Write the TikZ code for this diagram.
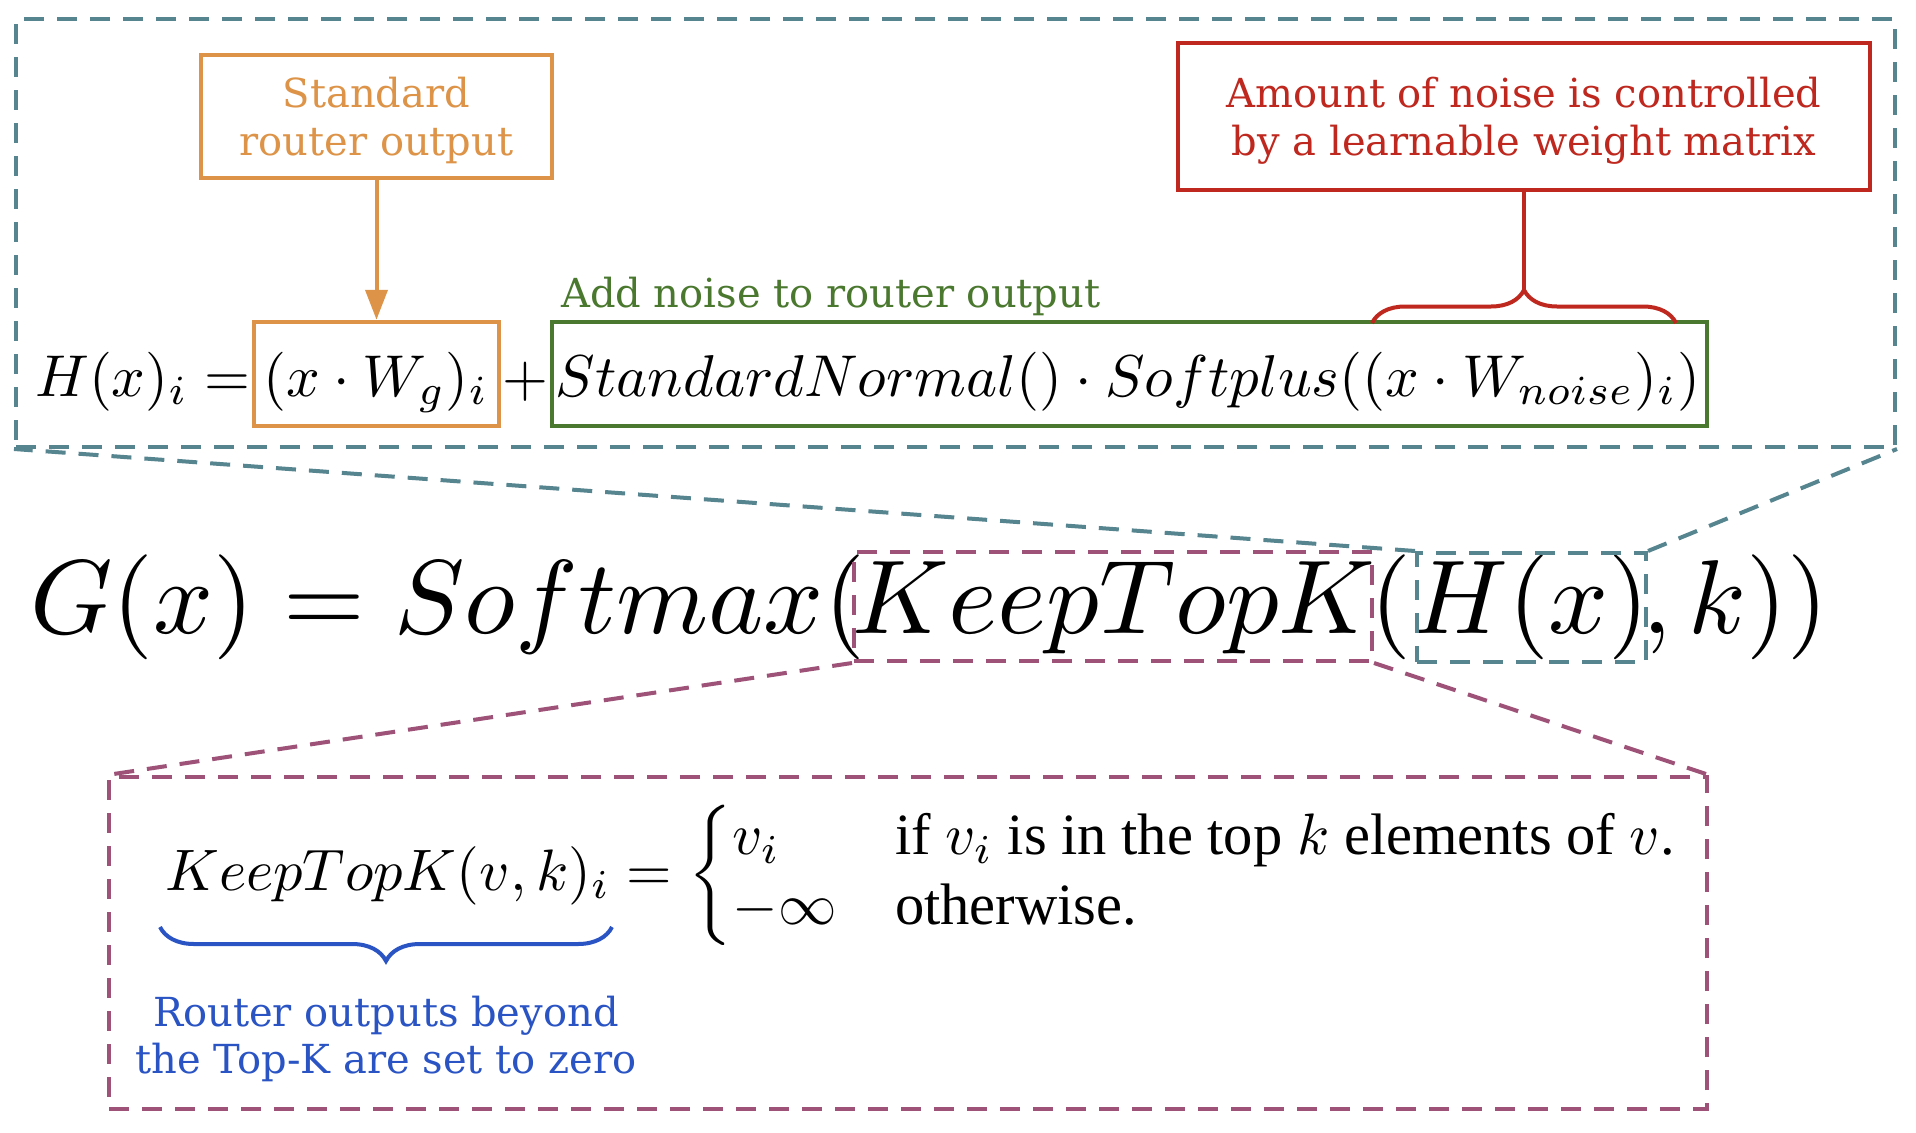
\documentclass[tikz,border=0pt]{standalone}
\usepackage[no-math]{fontspec}
\usepackage{amsmath}
\usepackage{graphicx}
\usetikzlibrary{arrows.meta,decorations.pathreplacing,fit}
\newfontfamily\annofam{DejaVu Serif}
\newfontfamily\timesf{Liberation Serif}
\newcommand\annofont{\annofam\fontsize{40}{47.5}\selectfont}
\newcommand\bigmath[1]{\scalebox{10.5}{$#1$}}
\newcommand\hmath[1]{\scalebox{5.9}{$#1$}}
\definecolor{cteal}{HTML}{56848F}
\definecolor{cmag}{HTML}{9E5278}
\definecolor{corange}{HTML}{DD9448}
\definecolor{cgreen}{HTML}{4A782E}
\definecolor{cred}{HTML}{BE281E}
\definecolor{cblue}{HTML}{2A54C4}
\tikzset{
  x=1pt, y=-1pt,
  tealdash/.style={draw=cteal, line width=4pt, dash pattern=on 20pt off 13pt},
  magdash/.style={draw=cmag, line width=4pt, dash pattern=on 20pt off 13pt},
  obox/.style={draw=corange, line width=4.5pt},
  gbox/.style={draw=cgreen, line width=4.5pt},
  rbox/.style={draw=cred, line width=4.5pt},
  annot/.style={font=\annofont, align=center, inner sep=0pt},
  mathtxt/.style={inner sep=0pt},
  oarrow/.style={draw=corange, line width=4pt, -{Triangle[width=22pt,length=30pt]}},
  rline/.style={draw=cred, line width=4pt},
  rbrace/.style={draw=cred, line width=4pt, decorate, decoration={brace, amplitude=33pt}},
  bbrace/.style={draw=cblue, line width=4pt, decorate, decoration={brace, amplitude=34pt}},
}
\begin{document}
\begin{tikzpicture}
\fill[white] (0,0) rectangle (1916,1132);
\useasboundingbox (0,0) rectangle (1916,1132);

% outer teal region
\node[fit={(16,19)(1895,447)}, inner sep=0pt, tealdash] (outer) {};

% top annotation boxes
\node[obox, minimum width=351pt, minimum height=123pt] (std) at (376.5,116.5) {};
\node[annot, text=corange] (stdtext) at (376.5,120.5) {Standard\\router output};
\node[rbox, minimum width=692pt, minimum height=147pt] (amount) at (1524,116.5) {};
\node[annot, text=cred] (amounttext) at (1524,120.5) {Amount of noise is controlled\\by a learnable weight matrix};
\node[annot, text=cgreen, anchor=base west] (addlbl) at (561,307) {Add noise to router output};

% H line
\node[mathtxt, anchor=base west] (hx) at (35,396) {\hmath{H(x)_i =}};
\node[mathtxt, anchor=base] (wgt) at (376,396) {\hmath{(x\cdot W_g)_i}};
\node[mathtxt, anchor=base] (plus) at (525.5,396) {\hmath{+}};
\node[mathtxt, anchor=base] (noiset) at (1128,396) {\hmath{StandardNormal()\cdot Softplus((x\cdot W_{noise})_i)}};
\node[fit={(254,322)(499,426)}, inner sep=0pt, obox] (wgbox) {};
\node[fit={(552,322)(1707,426)}, inner sep=0pt, gbox] (noisebox) {};

\draw[oarrow] (std) -- (wgbox);
\coordinate (rtip) at (1524,290);
\draw[rbrace] (1372,323) -- (1676,323);
\draw[rline] (amount) -- (rtip);

% big formula, set in pieces
\node[mathtxt, anchor=base west] (g1) at (30,633) {\bigmath{G(x) = Softmax(}};
\node[mathtxt, anchor=base west] (g2) at (852,633) {\bigmath{KeepTopK}};
\node[mathtxt, anchor=base west] (g3) at (1370,633) {\bigmath{(}};
\node[mathtxt, anchor=base west] (g4) at (1412,633) {\bigmath{H(x)}};
\node[mathtxt, anchor=base west] (g5) at (1642,633) {\bigmath{{,}\,k))}};
\node[fit={(854,552)(1372,661)}, inner sep=0pt, magdash] (ktkbox) {};
\node[fit={(1417,553)(1646,662)}, inner sep=0pt, tealdash] (hbox) {};
\draw[tealdash] (hbox.north west) -- (outer.south west);
\draw[tealdash] (hbox.north east) -- (outer.south east);

% lower region
\node[fit={(109,777)(1707,1109)}, inner sep=0pt, magdash] (lower) {};
\draw[magdash] (ktkbox.south west) -- (lower.north west);
\draw[magdash] (ktkbox.south east) -- (lower.north east);

\node[mathtxt, anchor=base west] (ktk) at (165,890) {\scalebox{5.85}{$KeepTopK(v,k)_i = \left\{\begin{array}{@{}l@{\quad}l@{}} v_i & \text{\timesf if $v_i$ is in the top $k$ elements of $v$.}\\ -\infty & \text{\timesf otherwise.}\end{array}\right.$}};

\draw[bbrace] (612,927) -- (160,927);
\node[annot, text=cblue] (routertext) at (386,1039) {Router outputs beyond\\the Top-K are set to zero};
\end{tikzpicture}
\end{document}
